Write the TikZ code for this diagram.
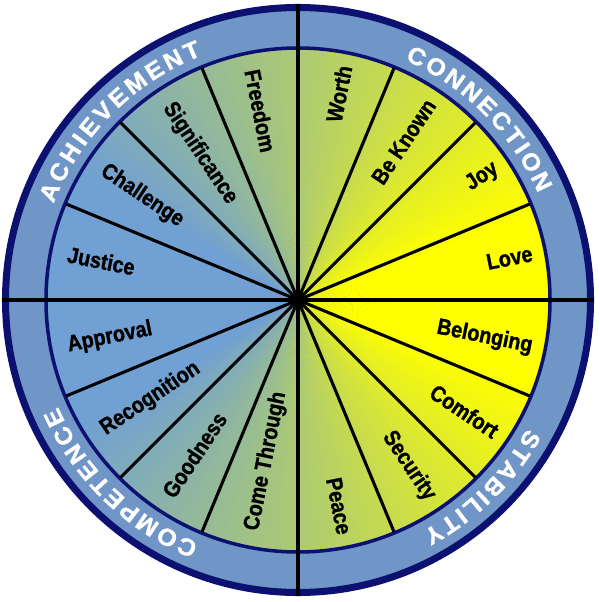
\documentclass[tikz,border=0pt]{standalone}
\usepackage{fontspec}
\setmainfont{Liberation Sans}
\newfontfamily\wheelfont[FakeStretch=0.88, BoldFeatures={FakeBold=1.2}]{Liberation Sans}
\newfontfamily\ringfont[FakeStretch=1.05, BoldFeatures={FakeBold=1.2}]{Liberation Sans}
\newcommand\ringword[4]{%
  \xdef\ringang{#1}\xdef\ringhalf{-1}%
  \foreach \ch/\w [count=\i] in {#4}{%
    \pgfmathsetmacro\newang{\ringhalf<0 ? \ringang : \ringang-(\ringhalf+\w/2)*5.31-#2}
    \node[ringletter, rotate=\newang-90] (#3-\i) at (\newang:271) {\ch};
    \xdef\ringang{\newang}
    \pgfmathsetmacro\newhalf{\w/2}
    \xdef\ringhalf{\newhalf}
  }}
\begin{document}
\begin{tikzpicture}[x=0.025cm, y=0.025cm, spoke/.style={line width=2.2pt, black}, need/.style={font=\wheelfont\bfseries\fontsize{16}{16}\selectfont, inner sep=0pt}, ringletter/.style={font=\ringfont\bfseries\fontsize{17}{17}\selectfont, text=white, inner sep=0pt}]
\definecolor{wheelNavy}{RGB}{12,16,112}
\definecolor{wheelRing}{RGB}{112,150,200}
\definecolor{wheelBlue}{RGB}{112,160,212}
\definecolor{wheelGreen}{RGB}{172,202,115}
\definecolor{wheelYellow}{RGB}{255,255,0}
\useasboundingbox (-298,-302) rectangle (301,300);
\fill[wheelRing] (0,0) circle (294);
\foreach \a in {-90,-89,...,89}{
  \pgfmathtruncatemacro\mixpct{max(0,min(100,(90-abs(\a+0.5))/70*100))}
  \fill[wheelYellow!\mixpct!wheelGreen] (0,0) -- (\a:252) arc[start angle=\a, end angle=\a+1.3, radius=252] -- cycle;
}
\foreach \a in {90,91,...,269}{
  \pgfmathtruncatemacro\mixpct{max(0,min(100,(90-abs(\a+0.5-180))/60*100))}
  \fill[wheelBlue!\mixpct!wheelGreen] (0,0) -- (\a:252) arc[start angle=\a, end angle=\a+1.3, radius=252] -- cycle;
}
\draw[wheelNavy, line width=2.5pt] (0,0) circle (252);
\draw[wheelNavy, line width=5pt] (0,0) circle (292.5);
\foreach \k in {1,2,3,5,6,7,9,10,11,13,14,15}
  \draw[spoke] (0,0) -- (\k*22.5:251);
\draw[spoke] (180:296) -- (0:296);
\draw[spoke] (90:296) -- (270:296);
\fill[black] (0,0) circle (5.5);
\foreach \ang/\txt [count=\k] in {78.75/Worth, 56.25/Be Known, 33.75/Joy, 11.25/Love, -11.25/Belonging, -33.75/Comfort, -56.25/Security, -78.75/Peace}
  \node[need, anchor=east, rotate=\ang] (need-r\k) at (\ang:239) {\txt};
\foreach \ang/\txt [count=\k] in {101.25/Freedom, 123.75/Significance, 146.25/Challenge, 168.75/Justice, 191.25/Approval, 213.75/Recognition, 236.25/Goodness, 258.75/Come Through}
  \node[need, anchor=west, rotate=\ang-180] (need-l\k) at (\ang:235) {\txt};
\ringword{156.5}{0.83}{ach}{A/.722, C/.722, H/.722, I/.278, E/.667, V/.667, E/.667, M/.833, E/.667, N/.722, T/.611}
\ringword{64}{0.69}{con}{C/.722, O/.778, N/.722, N/.722, E/.667, C/.722, T/.611, I/.278, O/.778, N/.722}
\ringword{-31}{0.625}{sta}{S/.667, T/.611, A/.722, B/.722, I/.278, L/.611, I/.278, T/.611, Y/.667}
\ringword{245.8}{0.69}{com}{C/.722, O/.778, M/.833, P/.667, E/.667, T/.611, E/.667, N/.722, C/.722, E/.667}
\end{tikzpicture}
\end{document}
